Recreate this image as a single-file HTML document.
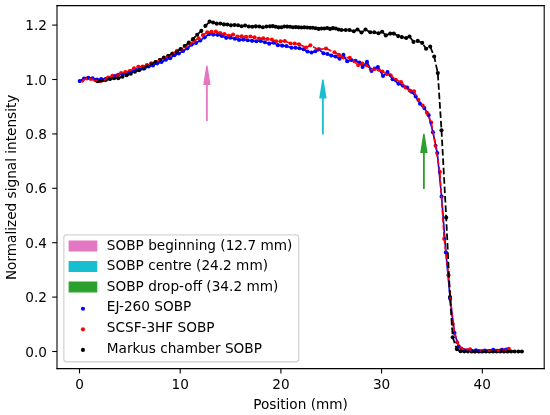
<!DOCTYPE html>
<html lang="en"><head><meta charset="utf-8"><title>SOBP depth-dose curves</title>
<style>html,body{margin:0;padding:0;background:#fff;}svg{display:block;}</style>
</head><body>
<svg width="550" height="415" viewBox="0 0 402.737 303.883">
 <defs>
  <style type="text/css">*{stroke-linejoin: round; stroke-linecap: butt}</style>
 </defs>
 <g id="figure_1">
  <g id="patch_1">
   <path d="M 0 303.883 
L 402.737 303.883 
L 402.737 0 
L 0 0 
z
" style="fill: #ffffff"/>
  </g>
  <g id="axes_1">
   <g id="patch_2">
    <path d="M 41.738 269.907 
L 398.490 269.907 
L 398.490 4.137 
L 41.738 4.137 
z
" style="fill: #ffffff"/>
   </g>
   <g id="PathCollection_1">
    <g>
     <circle cx="58.36" cy="59.39" r="1.5" fill="#0000ff" stroke="none"/>
     <circle cx="61.51" cy="57.51" r="1.5" fill="#0000ff" stroke="none"/>
     <circle cx="64.67" cy="57.02" r="1.5" fill="#0000ff" stroke="none"/>
     <circle cx="67.82" cy="57.34" r="1.5" fill="#0000ff" stroke="none"/>
     <circle cx="70.98" cy="58.29" r="1.5" fill="#0000ff" stroke="none"/>
     <circle cx="74.13" cy="57.86" r="1.5" fill="#0000ff" stroke="none"/>
     <circle cx="77.29" cy="57.80" r="1.5" fill="#0000ff" stroke="none"/>
     <circle cx="80.44" cy="57.55" r="1.5" fill="#0000ff" stroke="none"/>
     <circle cx="83.60" cy="55.72" r="1.5" fill="#0000ff" stroke="none"/>
     <circle cx="86.75" cy="54.70" r="1.5" fill="#0000ff" stroke="none"/>
     <circle cx="89.91" cy="54.21" r="1.5" fill="#0000ff" stroke="none"/>
     <circle cx="93.06" cy="53.27" r="1.5" fill="#0000ff" stroke="none"/>
     <circle cx="96.22" cy="52.30" r="1.5" fill="#0000ff" stroke="none"/>
     <circle cx="99.37" cy="51.10" r="1.5" fill="#0000ff" stroke="none"/>
     <circle cx="102.52" cy="50.68" r="1.5" fill="#0000ff" stroke="none"/>
     <circle cx="105.68" cy="50.21" r="1.5" fill="#0000ff" stroke="none"/>
     <circle cx="108.83" cy="48.64" r="1.5" fill="#0000ff" stroke="none"/>
     <circle cx="111.99" cy="48.00" r="1.5" fill="#0000ff" stroke="none"/>
     <circle cx="115.14" cy="46.38" r="1.5" fill="#0000ff" stroke="none"/>
     <circle cx="118.30" cy="45.40" r="1.5" fill="#0000ff" stroke="none"/>
     <circle cx="121.45" cy="43.77" r="1.5" fill="#0000ff" stroke="none"/>
     <circle cx="124.61" cy="42.61" r="1.5" fill="#0000ff" stroke="none"/>
     <circle cx="127.76" cy="40.43" r="1.5" fill="#0000ff" stroke="none"/>
     <circle cx="130.92" cy="39.22" r="1.5" fill="#0000ff" stroke="none"/>
     <circle cx="134.07" cy="37.37" r="1.5" fill="#0000ff" stroke="none"/>
     <circle cx="137.23" cy="35.40" r="1.5" fill="#0000ff" stroke="none"/>
     <circle cx="140.38" cy="32.66" r="1.5" fill="#0000ff" stroke="none"/>
     <circle cx="143.53" cy="31.45" r="1.5" fill="#0000ff" stroke="none"/>
     <circle cx="146.69" cy="29.61" r="1.5" fill="#0000ff" stroke="none"/>
     <circle cx="149.84" cy="27.34" r="1.5" fill="#0000ff" stroke="none"/>
     <circle cx="153.00" cy="25.08" r="1.5" fill="#0000ff" stroke="none"/>
     <circle cx="156.15" cy="25.33" r="1.5" fill="#0000ff" stroke="none"/>
     <circle cx="159.31" cy="25.51" r="1.5" fill="#0000ff" stroke="none"/>
     <circle cx="162.46" cy="26.29" r="1.5" fill="#0000ff" stroke="none"/>
     <circle cx="165.62" cy="27.71" r="1.5" fill="#0000ff" stroke="none"/>
     <circle cx="168.77" cy="27.57" r="1.5" fill="#0000ff" stroke="none"/>
     <circle cx="171.93" cy="28.40" r="1.5" fill="#0000ff" stroke="none"/>
     <circle cx="175.08" cy="29.21" r="1.5" fill="#0000ff" stroke="none"/>
     <circle cx="178.23" cy="28.98" r="1.5" fill="#0000ff" stroke="none"/>
     <circle cx="181.39" cy="29.48" r="1.5" fill="#0000ff" stroke="none"/>
     <circle cx="184.54" cy="29.90" r="1.5" fill="#0000ff" stroke="none"/>
     <circle cx="187.70" cy="30.20" r="1.5" fill="#0000ff" stroke="none"/>
     <circle cx="190.85" cy="29.99" r="1.5" fill="#0000ff" stroke="none"/>
     <circle cx="194.01" cy="30.91" r="1.5" fill="#0000ff" stroke="none"/>
     <circle cx="197.16" cy="31.96" r="1.5" fill="#0000ff" stroke="none"/>
     <circle cx="200.32" cy="31.33" r="1.5" fill="#0000ff" stroke="none"/>
     <circle cx="203.47" cy="33.05" r="1.5" fill="#0000ff" stroke="none"/>
     <circle cx="206.63" cy="33.44" r="1.5" fill="#0000ff" stroke="none"/>
     <circle cx="209.78" cy="33.76" r="1.5" fill="#0000ff" stroke="none"/>
     <circle cx="213.45" cy="35.00" r="1.5" fill="#0000ff" stroke="none"/>
     <circle cx="216.38" cy="35.00" r="1.5" fill="#0000ff" stroke="none"/>
     <circle cx="219.31" cy="35.37" r="1.5" fill="#0000ff" stroke="none"/>
     <circle cx="222.24" cy="36.10" r="1.5" fill="#0000ff" stroke="none"/>
     <circle cx="225.17" cy="37.71" r="1.5" fill="#0000ff" stroke="none"/>
     <circle cx="228.10" cy="38.44" r="1.5" fill="#0000ff" stroke="none"/>
     <circle cx="230.88" cy="37.49" r="1.5" fill="#0000ff" stroke="none"/>
     <circle cx="233.59" cy="36.10" r="1.5" fill="#0000ff" stroke="none"/>
     <circle cx="236.88" cy="39.03" r="1.5" fill="#0000ff" stroke="none"/>
     <circle cx="239.81" cy="39.54" r="1.5" fill="#0000ff" stroke="none"/>
     <circle cx="242.59" cy="40.64" r="1.5" fill="#0000ff" stroke="none"/>
     <circle cx="245.67" cy="41.37" r="1.5" fill="#0000ff" stroke="none"/>
     <circle cx="248.67" cy="42.98" r="1.5" fill="#0000ff" stroke="none"/>
     <circle cx="251.45" cy="40.20" r="1.5" fill="#0000ff" stroke="none"/>
     <circle cx="254.24" cy="44.89" r="1.5" fill="#0000ff" stroke="none"/>
     <circle cx="257.24" cy="43.94" r="1.5" fill="#0000ff" stroke="none"/>
     <circle cx="260.32" cy="44.45" r="1.5" fill="#0000ff" stroke="none"/>
     <circle cx="263.17" cy="45.84" r="1.5" fill="#0000ff" stroke="none"/>
     <circle cx="265.51" cy="49.06" r="1.5" fill="#0000ff" stroke="none"/>
     <circle cx="268.74" cy="45.33" r="1.5" fill="#0000ff" stroke="none"/>
     <circle cx="272.03" cy="51.92" r="1.5" fill="#0000ff" stroke="none"/>
     <circle cx="274.37" cy="50.16" r="1.5" fill="#0000ff" stroke="none"/>
     <circle cx="276.72" cy="49.06" r="1.5" fill="#0000ff" stroke="none"/>
     <circle cx="280.45" cy="55.65" r="1.5" fill="#0000ff" stroke="none"/>
     <circle cx="283.75" cy="52.80" r="1.5" fill="#0000ff" stroke="none"/>
     <circle cx="287.48" cy="57.99" r="1.5" fill="#0000ff" stroke="none"/>
     <circle cx="291.80" cy="61.24" r="1.5" fill="#0000ff" stroke="none"/>
     <circle cx="294.95" cy="62.68" r="1.5" fill="#0000ff" stroke="none"/>
     <circle cx="298.11" cy="64.15" r="1.5" fill="#0000ff" stroke="none"/>
     <circle cx="301.26" cy="67.12" r="1.5" fill="#0000ff" stroke="none"/>
     <circle cx="304.42" cy="70.65" r="1.5" fill="#0000ff" stroke="none"/>
     <circle cx="307.57" cy="75.96" r="1.5" fill="#0000ff" stroke="none"/>
     <circle cx="310.73" cy="79.14" r="1.5" fill="#0000ff" stroke="none"/>
     <circle cx="313.88" cy="84.31" r="1.5" fill="#0000ff" stroke="none"/>
     <circle cx="317.04" cy="96.80" r="1.5" fill="#0000ff" stroke="none"/>
     <circle cx="320.19" cy="112.04" r="1.5" fill="#0000ff" stroke="none"/>
     <circle cx="323.35" cy="143.86" r="1.5" fill="#0000ff" stroke="none"/>
     <circle cx="326.50" cy="184.86" r="1.5" fill="#0000ff" stroke="none"/>
     <circle cx="329.66" cy="218.79" r="1.5" fill="#0000ff" stroke="none"/>
     <circle cx="332.81" cy="243.93" r="1.5" fill="#0000ff" stroke="none"/>
     <circle cx="335.96" cy="253.80" r="1.5" fill="#0000ff" stroke="none"/>
     <circle cx="339.12" cy="256.10" r="1.5" fill="#0000ff" stroke="none"/>
     <circle cx="342.27" cy="256.59" r="1.5" fill="#0000ff" stroke="none"/>
     <circle cx="345.43" cy="256.95" r="1.5" fill="#0000ff" stroke="none"/>
     <circle cx="348.58" cy="256.55" r="1.5" fill="#0000ff" stroke="none"/>
     <circle cx="351.74" cy="257.19" r="1.5" fill="#0000ff" stroke="none"/>
     <circle cx="354.89" cy="256.75" r="1.5" fill="#0000ff" stroke="none"/>
     <circle cx="358.05" cy="257.03" r="1.5" fill="#0000ff" stroke="none"/>
     <circle cx="361.20" cy="256.22" r="1.5" fill="#0000ff" stroke="none"/>
     <circle cx="364.36" cy="256.95" r="1.5" fill="#0000ff" stroke="none"/>
     <circle cx="367.51" cy="256.06" r="1.5" fill="#0000ff" stroke="none"/>
     <circle cx="370.67" cy="255.91" r="1.5" fill="#0000ff" stroke="none"/>
    </g>
   </g>
   <g id="PathCollection_2">
    <g>
     <circle cx="60.26" cy="59.02" r="1.5" fill="#ff0000" stroke="none"/>
     <circle cx="63.42" cy="57.48" r="1.5" fill="#ff0000" stroke="none"/>
     <circle cx="66.57" cy="57.80" r="1.5" fill="#ff0000" stroke="none"/>
     <circle cx="69.73" cy="58.73" r="1.5" fill="#ff0000" stroke="none"/>
     <circle cx="72.88" cy="59.49" r="1.5" fill="#ff0000" stroke="none"/>
     <circle cx="76.04" cy="58.77" r="1.5" fill="#ff0000" stroke="none"/>
     <circle cx="79.19" cy="56.75" r="1.5" fill="#ff0000" stroke="none"/>
     <circle cx="82.35" cy="55.49" r="1.5" fill="#ff0000" stroke="none"/>
     <circle cx="85.50" cy="55.34" r="1.5" fill="#ff0000" stroke="none"/>
     <circle cx="88.66" cy="53.53" r="1.5" fill="#ff0000" stroke="none"/>
     <circle cx="91.81" cy="52.81" r="1.5" fill="#ff0000" stroke="none"/>
     <circle cx="94.96" cy="52.04" r="1.5" fill="#ff0000" stroke="none"/>
     <circle cx="98.12" cy="50.04" r="1.5" fill="#ff0000" stroke="none"/>
     <circle cx="101.27" cy="48.83" r="1.5" fill="#ff0000" stroke="none"/>
     <circle cx="104.43" cy="48.74" r="1.5" fill="#ff0000" stroke="none"/>
     <circle cx="107.58" cy="47.61" r="1.5" fill="#ff0000" stroke="none"/>
     <circle cx="110.74" cy="46.43" r="1.5" fill="#ff0000" stroke="none"/>
     <circle cx="113.89" cy="45.47" r="1.5" fill="#ff0000" stroke="none"/>
     <circle cx="117.05" cy="43.98" r="1.5" fill="#ff0000" stroke="none"/>
     <circle cx="120.20" cy="42.42" r="1.5" fill="#ff0000" stroke="none"/>
     <circle cx="123.36" cy="41.26" r="1.5" fill="#ff0000" stroke="none"/>
     <circle cx="126.51" cy="39.14" r="1.5" fill="#ff0000" stroke="none"/>
     <circle cx="129.67" cy="37.11" r="1.5" fill="#ff0000" stroke="none"/>
     <circle cx="132.82" cy="36.09" r="1.5" fill="#ff0000" stroke="none"/>
     <circle cx="135.97" cy="34.05" r="1.5" fill="#ff0000" stroke="none"/>
     <circle cx="139.13" cy="32.33" r="1.5" fill="#ff0000" stroke="none"/>
     <circle cx="142.28" cy="29.90" r="1.5" fill="#ff0000" stroke="none"/>
     <circle cx="145.44" cy="28.03" r="1.5" fill="#ff0000" stroke="none"/>
     <circle cx="148.59" cy="25.67" r="1.5" fill="#ff0000" stroke="none"/>
     <circle cx="151.75" cy="23.69" r="1.5" fill="#ff0000" stroke="none"/>
     <circle cx="154.90" cy="23.30" r="1.5" fill="#ff0000" stroke="none"/>
     <circle cx="158.06" cy="23.18" r="1.5" fill="#ff0000" stroke="none"/>
     <circle cx="161.21" cy="24.17" r="1.5" fill="#ff0000" stroke="none"/>
     <circle cx="164.37" cy="24.91" r="1.5" fill="#ff0000" stroke="none"/>
     <circle cx="167.52" cy="26.15" r="1.5" fill="#ff0000" stroke="none"/>
     <circle cx="170.68" cy="25.34" r="1.5" fill="#ff0000" stroke="none"/>
     <circle cx="173.83" cy="26.70" r="1.5" fill="#ff0000" stroke="none"/>
     <circle cx="176.98" cy="26.67" r="1.5" fill="#ff0000" stroke="none"/>
     <circle cx="180.14" cy="27.00" r="1.5" fill="#ff0000" stroke="none"/>
     <circle cx="183.29" cy="26.70" r="1.5" fill="#ff0000" stroke="none"/>
     <circle cx="186.45" cy="27.38" r="1.5" fill="#ff0000" stroke="none"/>
     <circle cx="189.60" cy="28.15" r="1.5" fill="#ff0000" stroke="none"/>
     <circle cx="192.76" cy="28.10" r="1.5" fill="#ff0000" stroke="none"/>
     <circle cx="195.91" cy="28.56" r="1.5" fill="#ff0000" stroke="none"/>
     <circle cx="199.07" cy="28.92" r="1.5" fill="#ff0000" stroke="none"/>
     <circle cx="202.22" cy="30.15" r="1.5" fill="#ff0000" stroke="none"/>
     <circle cx="205.38" cy="30.29" r="1.5" fill="#ff0000" stroke="none"/>
     <circle cx="208.53" cy="29.97" r="1.5" fill="#ff0000" stroke="none"/>
     <circle cx="212.87" cy="31.85" r="1.5" fill="#ff0000" stroke="none"/>
     <circle cx="215.79" cy="31.85" r="1.5" fill="#ff0000" stroke="none"/>
     <circle cx="218.94" cy="32.37" r="1.5" fill="#ff0000" stroke="none"/>
     <circle cx="224.07" cy="34.78" r="1.5" fill="#ff0000" stroke="none"/>
     <circle cx="227.29" cy="33.17" r="1.5" fill="#ff0000" stroke="none"/>
     <circle cx="232.86" cy="36.32" r="1.5" fill="#ff0000" stroke="none"/>
     <circle cx="238.71" cy="35.51" r="1.5" fill="#ff0000" stroke="none"/>
     <circle cx="244.94" cy="38.30" r="1.5" fill="#ff0000" stroke="none"/>
     <circle cx="248.23" cy="40.20" r="1.5" fill="#ff0000" stroke="none"/>
     <circle cx="251.45" cy="42.10" r="1.5" fill="#ff0000" stroke="none"/>
     <circle cx="256.14" cy="42.32" r="1.5" fill="#ff0000" stroke="none"/>
     <circle cx="259.44" cy="44.89" r="1.5" fill="#ff0000" stroke="none"/>
     <circle cx="262.22" cy="47.67" r="1.5" fill="#ff0000" stroke="none"/>
     <circle cx="265.29" cy="46.57" r="1.5" fill="#ff0000" stroke="none"/>
     <circle cx="268.30" cy="47.67" r="1.5" fill="#ff0000" stroke="none"/>
     <circle cx="271.59" cy="50.96" r="1.5" fill="#ff0000" stroke="none"/>
     <circle cx="274.37" cy="50.53" r="1.5" fill="#ff0000" stroke="none"/>
     <circle cx="277.16" cy="50.96" r="1.5" fill="#ff0000" stroke="none"/>
     <circle cx="280.01" cy="52.36" r="1.5" fill="#ff0000" stroke="none"/>
     <circle cx="283.23" cy="54.26" r="1.5" fill="#ff0000" stroke="none"/>
     <circle cx="286.09" cy="55.14" r="1.5" fill="#ff0000" stroke="none"/>
     <circle cx="289.82" cy="58.43" r="1.5" fill="#ff0000" stroke="none"/>
     <circle cx="293.70" cy="60.14" r="1.5" fill="#ff0000" stroke="none"/>
     <circle cx="296.86" cy="63.95" r="1.5" fill="#ff0000" stroke="none"/>
     <circle cx="300.01" cy="66.35" r="1.5" fill="#ff0000" stroke="none"/>
     <circle cx="303.17" cy="66.81" r="1.5" fill="#ff0000" stroke="none"/>
     <circle cx="306.32" cy="73.10" r="1.5" fill="#ff0000" stroke="none"/>
     <circle cx="309.48" cy="77.26" r="1.5" fill="#ff0000" stroke="none"/>
     <circle cx="312.63" cy="82.60" r="1.5" fill="#ff0000" stroke="none"/>
     <circle cx="315.79" cy="89.78" r="1.5" fill="#ff0000" stroke="none"/>
     <circle cx="318.94" cy="106.67" r="1.5" fill="#ff0000" stroke="none"/>
     <circle cx="322.10" cy="125.96" r="1.5" fill="#ff0000" stroke="none"/>
     <circle cx="325.25" cy="174.79" r="1.5" fill="#ff0000" stroke="none"/>
     <circle cx="328.40" cy="201.46" r="1.5" fill="#ff0000" stroke="none"/>
     <circle cx="331.56" cy="237.31" r="1.5" fill="#ff0000" stroke="none"/>
     <circle cx="334.71" cy="250.60" r="1.5" fill="#ff0000" stroke="none"/>
     <circle cx="337.87" cy="255.18" r="1.5" fill="#ff0000" stroke="none"/>
     <circle cx="341.02" cy="256.43" r="1.5" fill="#ff0000" stroke="none"/>
     <circle cx="344.18" cy="255.84" r="1.5" fill="#ff0000" stroke="none"/>
     <circle cx="347.33" cy="257.37" r="1.5" fill="#ff0000" stroke="none"/>
     <circle cx="350.49" cy="257.14" r="1.5" fill="#ff0000" stroke="none"/>
     <circle cx="353.64" cy="257.15" r="1.5" fill="#ff0000" stroke="none"/>
     <circle cx="356.80" cy="257.06" r="1.5" fill="#ff0000" stroke="none"/>
     <circle cx="359.95" cy="256.83" r="1.5" fill="#ff0000" stroke="none"/>
     <circle cx="363.11" cy="256.89" r="1.5" fill="#ff0000" stroke="none"/>
     <circle cx="366.26" cy="256.69" r="1.5" fill="#ff0000" stroke="none"/>
     <circle cx="369.41" cy="256.71" r="1.5" fill="#ff0000" stroke="none"/>
     <circle cx="372.57" cy="255.48" r="1.5" fill="#ff0000" stroke="none"/>
    </g>
   </g>
   <g id="PathCollection_3">
    <g>
     <circle cx="71.39" cy="59.54" r="1.5" fill="#000000" stroke="none"/>
     <circle cx="74.43" cy="59.01" r="1.5" fill="#000000" stroke="none"/>
     <circle cx="77.47" cy="58.49" r="1.5" fill="#000000" stroke="none"/>
     <circle cx="80.52" cy="57.87" r="1.5" fill="#000000" stroke="none"/>
     <circle cx="83.56" cy="57.27" r="1.5" fill="#000000" stroke="none"/>
     <circle cx="86.60" cy="57.25" r="1.5" fill="#000000" stroke="none"/>
     <circle cx="89.64" cy="56.16" r="1.5" fill="#000000" stroke="none"/>
     <circle cx="92.68" cy="55.11" r="1.5" fill="#000000" stroke="none"/>
     <circle cx="95.72" cy="53.93" r="1.5" fill="#000000" stroke="none"/>
     <circle cx="98.76" cy="52.53" r="1.5" fill="#000000" stroke="none"/>
     <circle cx="101.80" cy="51.41" r="1.5" fill="#000000" stroke="none"/>
     <circle cx="104.84" cy="50.12" r="1.5" fill="#000000" stroke="none"/>
     <circle cx="107.88" cy="48.20" r="1.5" fill="#000000" stroke="none"/>
     <circle cx="110.92" cy="46.81" r="1.5" fill="#000000" stroke="none"/>
     <circle cx="113.96" cy="45.38" r="1.5" fill="#000000" stroke="none"/>
     <circle cx="117.00" cy="44.04" r="1.5" fill="#000000" stroke="none"/>
     <circle cx="120.04" cy="42.11" r="1.5" fill="#000000" stroke="none"/>
     <circle cx="123.08" cy="41.08" r="1.5" fill="#000000" stroke="none"/>
     <circle cx="126.12" cy="39.38" r="1.5" fill="#000000" stroke="none"/>
     <circle cx="129.16" cy="38.25" r="1.5" fill="#000000" stroke="none"/>
     <circle cx="132.20" cy="35.89" r="1.5" fill="#000000" stroke="none"/>
     <circle cx="135.24" cy="33.65" r="1.5" fill="#000000" stroke="none"/>
     <circle cx="138.28" cy="31.22" r="1.5" fill="#000000" stroke="none"/>
     <circle cx="141.32" cy="28.53" r="1.5" fill="#000000" stroke="none"/>
     <circle cx="144.36" cy="25.49" r="1.5" fill="#000000" stroke="none"/>
     <circle cx="147.40" cy="22.61" r="1.5" fill="#000000" stroke="none"/>
     <circle cx="150.44" cy="18.94" r="1.5" fill="#000000" stroke="none"/>
     <circle cx="153.48" cy="15.82" r="1.5" fill="#000000" stroke="none"/>
     <circle cx="156.08" cy="16.46" r="1.5" fill="#000000" stroke="none"/>
     <circle cx="158.68" cy="17.31" r="1.5" fill="#000000" stroke="none"/>
     <circle cx="161.28" cy="17.17" r="1.5" fill="#000000" stroke="none"/>
     <circle cx="163.89" cy="17.88" r="1.5" fill="#000000" stroke="none"/>
     <circle cx="166.49" cy="17.95" r="1.5" fill="#000000" stroke="none"/>
     <circle cx="169.09" cy="18.55" r="1.5" fill="#000000" stroke="none"/>
     <circle cx="171.69" cy="18.26" r="1.5" fill="#000000" stroke="none"/>
     <circle cx="174.29" cy="18.44" r="1.5" fill="#000000" stroke="none"/>
     <circle cx="176.89" cy="19.25" r="1.5" fill="#000000" stroke="none"/>
     <circle cx="179.50" cy="18.70" r="1.5" fill="#000000" stroke="none"/>
     <circle cx="182.10" cy="19.37" r="1.5" fill="#000000" stroke="none"/>
     <circle cx="184.70" cy="19.59" r="1.5" fill="#000000" stroke="none"/>
     <circle cx="187.30" cy="19.30" r="1.5" fill="#000000" stroke="none"/>
     <circle cx="189.90" cy="19.46" r="1.5" fill="#000000" stroke="none"/>
     <circle cx="192.50" cy="19.94" r="1.5" fill="#000000" stroke="none"/>
     <circle cx="195.11" cy="19.37" r="1.5" fill="#000000" stroke="none"/>
     <circle cx="197.71" cy="19.30" r="1.5" fill="#000000" stroke="none"/>
     <circle cx="199.80" cy="19.12" r="1.5" fill="#000000" stroke="none"/>
     <circle cx="201.90" cy="19.57" r="1.5" fill="#000000" stroke="none"/>
     <circle cx="203.99" cy="20.04" r="1.5" fill="#000000" stroke="none"/>
     <circle cx="206.08" cy="19.93" r="1.5" fill="#000000" stroke="none"/>
     <circle cx="208.18" cy="19.41" r="1.5" fill="#000000" stroke="none"/>
     <circle cx="210.27" cy="19.48" r="1.5" fill="#000000" stroke="none"/>
     <circle cx="212.37" cy="19.64" r="1.5" fill="#000000" stroke="none"/>
     <circle cx="214.46" cy="19.92" r="1.5" fill="#000000" stroke="none"/>
     <circle cx="216.56" cy="19.83" r="1.5" fill="#000000" stroke="none"/>
     <circle cx="218.65" cy="20.02" r="1.5" fill="#000000" stroke="none"/>
     <circle cx="220.74" cy="20.11" r="1.5" fill="#000000" stroke="none"/>
     <circle cx="222.84" cy="20.02" r="1.5" fill="#000000" stroke="none"/>
     <circle cx="224.93" cy="20.18" r="1.5" fill="#000000" stroke="none"/>
     <circle cx="227.03" cy="20.35" r="1.5" fill="#000000" stroke="none"/>
     <circle cx="229.12" cy="20.36" r="1.5" fill="#000000" stroke="none"/>
     <circle cx="231.22" cy="20.64" r="1.5" fill="#000000" stroke="none"/>
     <circle cx="233.31" cy="21.15" r="1.5" fill="#000000" stroke="none"/>
     <circle cx="235.40" cy="20.89" r="1.5" fill="#000000" stroke="none"/>
     <circle cx="237.50" cy="20.84" r="1.5" fill="#000000" stroke="none"/>
     <circle cx="239.59" cy="20.45" r="1.5" fill="#000000" stroke="none"/>
     <circle cx="241.69" cy="21.17" r="1.5" fill="#000000" stroke="none"/>
     <circle cx="243.78" cy="20.60" r="1.5" fill="#000000" stroke="none"/>
     <circle cx="245.88" cy="20.87" r="1.5" fill="#000000" stroke="none"/>
     <circle cx="247.97" cy="21.65" r="1.5" fill="#000000" stroke="none"/>
     <circle cx="250.06" cy="21.97" r="1.5" fill="#000000" stroke="none"/>
     <circle cx="253.21" cy="21.97" r="1.5" fill="#000000" stroke="none"/>
     <circle cx="255.92" cy="21.97" r="1.5" fill="#000000" stroke="none"/>
     <circle cx="259.07" cy="22.92" r="1.5" fill="#000000" stroke="none"/>
     <circle cx="261.78" cy="21.60" r="1.5" fill="#000000" stroke="none"/>
     <circle cx="264.71" cy="23.80" r="1.5" fill="#000000" stroke="none"/>
     <circle cx="267.64" cy="21.60" r="1.5" fill="#000000" stroke="none"/>
     <circle cx="271.15" cy="23.58" r="1.5" fill="#000000" stroke="none"/>
     <circle cx="274.01" cy="23.58" r="1.5" fill="#000000" stroke="none"/>
     <circle cx="277.16" cy="24.31" r="1.5" fill="#000000" stroke="none"/>
     <circle cx="279.87" cy="23.21" r="1.5" fill="#000000" stroke="none"/>
     <circle cx="282.50" cy="25.92" r="1.5" fill="#000000" stroke="none"/>
     <circle cx="285.72" cy="24.60" r="1.5" fill="#000000" stroke="none"/>
     <circle cx="288.36" cy="24.60" r="1.5" fill="#000000" stroke="none"/>
     <circle cx="291.58" cy="26.43" r="1.5" fill="#000000" stroke="none"/>
     <circle cx="294.22" cy="27.17" r="1.5" fill="#000000" stroke="none"/>
     <circle cx="297.44" cy="27.83" r="1.5" fill="#000000" stroke="none"/>
     <circle cx="299.86" cy="26.73" r="1.5" fill="#000000" stroke="none"/>
     <circle cx="302.79" cy="30.68" r="1.5" fill="#000000" stroke="none"/>
     <circle cx="305.86" cy="29.95" r="1.5" fill="#000000" stroke="none"/>
     <circle cx="309.16" cy="31.41" r="1.5" fill="#000000" stroke="none"/>
     <circle cx="312.01" cy="35.73" r="1.5" fill="#000000" stroke="none"/>
     <circle cx="315.01" cy="34.12" r="1.5" fill="#000000" stroke="none"/>
     <circle cx="317.94" cy="41.37" r="1.5" fill="#000000" stroke="none"/>
     <circle cx="320.58" cy="53.53" r="1.5" fill="#000000" stroke="none"/>
     <circle cx="323.29" cy="95.34" r="1.5" fill="#000000" stroke="none"/>
     <circle cx="326.73" cy="159.26" r="1.5" fill="#000000" stroke="none"/>
     <circle cx="329.51" cy="217.55" r="1.5" fill="#000000" stroke="none"/>
     <circle cx="331.49" cy="246.99" r="1.5" fill="#000000" stroke="none"/>
     <circle cx="334.49" cy="255.63" r="1.5" fill="#000000" stroke="none"/>
     <circle cx="337.27" cy="257.24" r="1.5" fill="#000000" stroke="none"/>
     <circle cx="339.98" cy="257.26" r="1.5" fill="#000000" stroke="none"/>
     <circle cx="342.62" cy="257.28" r="1.5" fill="#000000" stroke="none"/>
     <circle cx="345.26" cy="257.30" r="1.5" fill="#000000" stroke="none"/>
     <circle cx="347.89" cy="257.32" r="1.5" fill="#000000" stroke="none"/>
     <circle cx="350.53" cy="257.33" r="1.5" fill="#000000" stroke="none"/>
     <circle cx="353.16" cy="257.34" r="1.5" fill="#000000" stroke="none"/>
     <circle cx="355.80" cy="257.35" r="1.5" fill="#000000" stroke="none"/>
     <circle cx="358.44" cy="257.36" r="1.5" fill="#000000" stroke="none"/>
     <circle cx="361.07" cy="257.37" r="1.5" fill="#000000" stroke="none"/>
     <circle cx="363.71" cy="257.37" r="1.5" fill="#000000" stroke="none"/>
     <circle cx="366.34" cy="257.38" r="1.5" fill="#000000" stroke="none"/>
     <circle cx="368.98" cy="257.38" r="1.5" fill="#000000" stroke="none"/>
     <circle cx="371.62" cy="257.38" r="1.5" fill="#000000" stroke="none"/>
     <circle cx="374.25" cy="257.38" r="1.5" fill="#000000" stroke="none"/>
     <circle cx="376.89" cy="257.39" r="1.5" fill="#000000" stroke="none"/>
     <circle cx="379.53" cy="257.39" r="1.5" fill="#000000" stroke="none"/>
     <circle cx="382.16" cy="257.39" r="1.5" fill="#000000" stroke="none"/>
    </g>
   </g>
   <g id="patch_3">
    <path d="M 151.492 48.255 
L 153.630 61.699 
L 151.639 61.699 
L 151.639 88.089 
L 151.344 88.089 
L 151.344 61.699 
L 149.353 61.699 
z
" style="fill: #e377c2; stroke: #e377c2; stroke-linejoin: miter"/>
   </g>
   <g id="patch_4">
    <path d="M 236.437 58.213 
L 238.576 71.658 
L 236.585 71.658 
L 236.585 98.048 
L 236.290 98.048 
L 236.290 71.658 
L 234.299 71.658 
z
" style="fill: #17becf; stroke: #17becf; stroke-linejoin: miter"/>
   </g>
   <g id="patch_5">
    <path d="M 310.396 98.048 
L 312.535 111.492 
L 310.544 111.492 
L 310.544 137.882 
L 310.249 137.882 
L 310.249 111.492 
L 308.258 111.492 
z
" style="fill: #2ca02c; stroke: #2ca02c; stroke-linejoin: miter"/>
   </g>
   <g id="matplotlib.axis_1">
    <g id="xtick_1">
     <g id="line2d_1">
      <g>
       <line x1="58.214" y1="269.908" x2="58.214" y2="273.408" style="stroke: #000000; stroke-width: 0.8"/>
      </g>
     </g>
     <g id="text_1">
      <text style="font-size: 10px; font-family: 'DejaVu Sans', 'Liberation Sans', sans-serif; text-anchor: middle" x="58.214" y="284.726">0</text>
     </g>
    </g>
    <g id="xtick_2">
     <g id="line2d_2">
      <g>
       <line x1="131.952" y1="269.908" x2="131.952" y2="273.408" style="stroke: #000000; stroke-width: 0.8"/>
      </g>
     </g>
     <g id="text_2">
      <text style="font-size: 10px; font-family: 'DejaVu Sans', 'Liberation Sans', sans-serif; text-anchor: middle" x="131.952" y="284.726">10</text>
     </g>
    </g>
    <g id="xtick_3">
     <g id="line2d_3">
      <g>
       <line x1="205.689" y1="269.908" x2="205.689" y2="273.408" style="stroke: #000000; stroke-width: 0.8"/>
      </g>
     </g>
     <g id="text_3">
      <text style="font-size: 10px; font-family: 'DejaVu Sans', 'Liberation Sans', sans-serif; text-anchor: middle" x="205.689" y="284.726">20</text>
     </g>
    </g>
    <g id="xtick_4">
     <g id="line2d_4">
      <g>
       <line x1="279.427" y1="269.908" x2="279.427" y2="273.408" style="stroke: #000000; stroke-width: 0.8"/>
      </g>
     </g>
     <g id="text_4">
      <text style="font-size: 10px; font-family: 'DejaVu Sans', 'Liberation Sans', sans-serif; text-anchor: middle" x="279.427" y="284.726">30</text>
     </g>
    </g>
    <g id="xtick_5">
     <g id="line2d_5">
      <g>
       <line x1="353.164" y1="269.908" x2="353.164" y2="273.408" style="stroke: #000000; stroke-width: 0.8"/>
      </g>
     </g>
     <g id="text_5">
      <text style="font-size: 10px; font-family: 'DejaVu Sans', 'Liberation Sans', sans-serif; text-anchor: middle" x="353.164" y="284.726">40</text>
     </g>
    </g>
    <g id="text_6">
     <text style="font-size: 10px; font-family: 'DejaVu Sans', 'Liberation Sans', sans-serif; text-anchor: middle" x="220.115" y="299.429">Position (mm)</text>
    </g>
   </g>
   <g id="matplotlib.axis_2">
    <g id="ytick_1">
     <g id="line2d_6">
      <g>
       <line x1="41.738" y1="257.386" x2="38.238" y2="257.386" style="stroke: #000000; stroke-width: 0.8"/>
      </g>
     </g>
     <g id="text_7">
      <text style="font-size: 10px; font-family: 'DejaVu Sans', 'Liberation Sans', sans-serif; text-anchor: end" x="34.372" y="261.112">0.0</text>
     </g>
    </g>
    <g id="ytick_2">
     <g id="line2d_7">
      <g>
       <line x1="41.738" y1="217.552" x2="38.238" y2="217.552" style="stroke: #000000; stroke-width: 0.8"/>
      </g>
     </g>
     <g id="text_8">
      <text style="font-size: 10px; font-family: 'DejaVu Sans', 'Liberation Sans', sans-serif; text-anchor: end" x="34.372" y="221.278">0.2</text>
     </g>
    </g>
    <g id="ytick_3">
     <g id="line2d_8">
      <g>
       <line x1="41.738" y1="177.717" x2="38.238" y2="177.717" style="stroke: #000000; stroke-width: 0.8"/>
      </g>
     </g>
     <g id="text_9">
      <text style="font-size: 10px; font-family: 'DejaVu Sans', 'Liberation Sans', sans-serif; text-anchor: end" x="34.372" y="181.443">0.4</text>
     </g>
    </g>
    <g id="ytick_4">
     <g id="line2d_9">
      <g>
       <line x1="41.738" y1="137.883" x2="38.238" y2="137.883" style="stroke: #000000; stroke-width: 0.8"/>
      </g>
     </g>
     <g id="text_10">
      <text style="font-size: 10px; font-family: 'DejaVu Sans', 'Liberation Sans', sans-serif; text-anchor: end" x="34.372" y="141.609">0.6</text>
     </g>
    </g>
    <g id="ytick_5">
     <g id="line2d_10">
      <g>
       <line x1="41.738" y1="98.048" x2="38.238" y2="98.048" style="stroke: #000000; stroke-width: 0.8"/>
      </g>
     </g>
     <g id="text_11">
      <text style="font-size: 10px; font-family: 'DejaVu Sans', 'Liberation Sans', sans-serif; text-anchor: end" x="34.372" y="101.774">0.8</text>
     </g>
    </g>
    <g id="ytick_6">
     <g id="line2d_11">
      <g>
       <line x1="41.738" y1="58.214" x2="38.238" y2="58.214" style="stroke: #000000; stroke-width: 0.8"/>
      </g>
     </g>
     <g id="text_12">
      <text style="font-size: 10px; font-family: 'DejaVu Sans', 'Liberation Sans', sans-serif; text-anchor: end" x="34.372" y="61.940">1.0</text>
     </g>
    </g>
    <g id="ytick_7">
     <g id="line2d_12">
      <g>
       <line x1="41.738" y1="18.379" x2="38.238" y2="18.379" style="stroke: #000000; stroke-width: 0.8"/>
      </g>
     </g>
     <g id="text_13">
      <text style="font-size: 10px; font-family: 'DejaVu Sans', 'Liberation Sans', sans-serif; text-anchor: end" x="34.372" y="22.105">1.2</text>
     </g>
    </g>
    <g id="text_14">
     <text style="font-size: 10px; font-family: 'DejaVu Sans', 'Liberation Sans', sans-serif; text-anchor: middle" x="11.950" y="137.169" transform="rotate(-90 11.950 137.169)">Normalized signal intensity</text>
    </g>
   </g>
   <g id="line2d_13">
    <path d="M 58.360 59.385 
L 61.514 57.510 
L 64.669 57.017 
L 67.824 57.337 
L 70.978 58.293 
L 74.133 57.857 
L 77.287 57.798 
L 80.442 57.545 
L 83.597 55.723 
L 86.751 54.695 
L 89.906 54.213 
L 93.060 53.266 
L 96.215 52.299 
L 99.370 51.098 
L 102.524 50.675 
L 105.679 50.213 
L 108.833 48.637 
L 111.988 48.000 
L 115.143 46.384 
L 118.297 45.395 
L 121.452 43.773 
L 124.606 42.609 
L 127.761 40.432 
L 130.916 39.220 
L 134.070 37.372 
L 137.225 35.399 
L 140.379 32.660 
L 143.534 31.450 
L 146.689 29.613 
L 149.843 27.337 
L 152.998 25.078 
L 156.152 25.331 
L 159.307 25.508 
L 162.461 26.285 
L 165.616 27.714 
L 168.771 27.566 
L 171.925 28.400 
L 175.080 29.209 
L 178.234 28.975 
L 181.389 29.480 
L 184.544 29.898 
L 187.698 30.200 
L 190.853 29.988 
L 194.007 30.914 
L 197.162 31.959 
L 200.317 31.330 
L 203.471 33.051 
L 206.626 33.437 
L 209.780 33.757 
L 213.451 35.001 
L 216.380 35.001 
L 219.309 35.367 
L 222.238 36.099 
L 225.167 37.710 
L 228.096 38.443 
L 230.878 37.491 
L 233.587 36.099 
L 236.883 39.028 
L 239.812 39.541 
L 242.594 40.639 
L 245.670 41.372 
L 248.672 42.983 
L 251.454 40.200 
L 254.237 44.886 
L 257.239 43.935 
L 260.315 44.447 
L 263.170 45.838 
L 265.514 49.060 
L 268.735 45.326 
L 272.031 51.916 
L 274.374 50.159 
L 276.717 49.060 
L 280.451 55.651 
L 283.747 52.795 
L 287.481 57.994 
L 291.800 61.241 
L 294.954 62.682 
L 298.109 64.153 
L 301.264 67.123 
L 304.418 70.648 
L 307.573 75.960 
L 310.727 79.139 
L 313.882 84.310 
L 317.037 96.797 
L 320.191 112.042 
L 323.346 143.864 
L 326.500 184.855 
L 329.655 218.790 
L 332.810 243.932 
L 335.964 253.804 
L 339.119 256.101 
L 342.273 256.591 
L 345.428 256.947 
L 348.583 256.547 
L 351.737 257.193 
L 354.892 256.754 
L 358.046 257.031 
L 361.201 256.220 
L 364.356 256.947 
L 367.510 256.057 
L 370.665 255.906 
" style="fill: none; stroke: #0000ff; stroke-width: 1.2; stroke-linecap: square"/>
   </g>
   <g id="line2d_14">
    <path d="M 60.264 59.019 
L 63.418 57.484 
L 66.573 57.795 
L 69.728 58.728 
L 72.882 59.489 
L 76.037 58.773 
L 79.191 56.746 
L 82.346 55.486 
L 85.500 55.343 
L 88.655 53.532 
L 91.810 52.811 
L 94.964 52.041 
L 98.119 50.044 
L 101.273 48.831 
L 104.428 48.738 
L 107.583 47.608 
L 110.737 46.429 
L 113.892 45.474 
L 117.046 43.976 
L 120.201 42.417 
L 123.356 41.257 
L 126.510 39.135 
L 129.665 37.110 
L 132.819 36.093 
L 135.974 34.045 
L 139.129 32.334 
L 142.283 29.901 
L 145.438 28.034 
L 148.592 25.672 
L 151.747 23.687 
L 154.902 23.297 
L 158.056 23.180 
L 161.211 24.170 
L 164.365 24.909 
L 167.520 26.149 
L 170.675 25.338 
L 173.829 26.699 
L 176.984 26.671 
L 180.138 27.002 
L 183.293 26.703 
L 186.448 27.383 
L 189.602 28.146 
L 192.757 28.100 
L 195.911 28.559 
L 199.066 28.919 
L 202.220 30.149 
L 205.375 30.289 
L 208.530 29.974 
L 212.865 31.852 
L 215.794 31.852 
L 218.942 32.365 
L 224.068 34.781 
L 227.290 33.170 
L 232.855 36.319 
L 238.713 35.514 
L 244.937 38.296 
L 248.232 40.200 
L 251.454 42.104 
L 256.141 42.324 
L 259.436 44.886 
L 262.218 47.669 
L 265.294 46.571 
L 268.296 47.669 
L 271.591 50.964 
L 274.374 50.525 
L 277.156 50.964 
L 280.012 52.355 
L 283.234 54.259 
L 286.090 55.138 
L 289.824 58.433 
L 293.704 60.144 
L 296.858 63.950 
L 300.013 66.349 
L 303.168 66.807 
L 306.322 73.102 
L 309.477 77.263 
L 312.631 82.600 
L 315.786 89.775 
L 318.940 106.671 
L 322.095 125.955 
L 325.250 174.790 
L 328.404 201.463 
L 331.559 237.314 
L 334.713 250.601 
L 337.868 255.178 
L 341.023 256.433 
L 344.177 255.836 
L 347.332 257.370 
L 350.486 257.142 
L 353.641 257.150 
L 356.796 257.062 
L 359.950 256.831 
L 363.105 256.887 
L 366.259 256.687 
L 369.414 256.710 
L 372.569 255.482 
" style="fill: none; stroke-dasharray: 3.72,1.62; stroke-dashoffset: 0; stroke: #ff0000; stroke-width: 1.2"/>
   </g>
   <g id="line2d_15">
    <path d="M 71.394 59.535 
L 74.434 59.012 
L 77.474 58.489 
L 80.515 57.871 
L 83.555 57.270 
L 86.595 57.251 
L 89.635 56.161 
L 92.675 55.108 
L 95.715 53.931 
L 98.756 52.532 
L 101.796 51.414 
L 104.836 50.117 
L 107.876 48.203 
L 110.916 46.808 
L 113.957 45.384 
L 116.997 44.044 
L 120.037 42.114 
L 123.077 41.078 
L 126.117 39.382 
L 129.158 38.251 
L 132.198 35.893 
L 135.238 33.645 
L 138.278 31.218 
L 141.318 28.531 
L 144.359 25.494 
L 147.399 22.612 
L 150.439 18.935 
L 153.479 15.818 
L 156.081 16.460 
L 158.683 17.305 
L 161.284 17.173 
L 163.886 17.882 
L 166.487 17.946 
L 169.089 18.553 
L 171.691 18.261 
L 174.292 18.436 
L 176.894 19.245 
L 179.496 18.700 
L 182.097 19.370 
L 184.699 19.589 
L 187.301 19.300 
L 189.902 19.460 
L 192.504 19.935 
L 195.106 19.365 
L 197.707 19.304 
L 199.801 19.124 
L 201.896 19.574 
L 203.990 20.036 
L 206.084 19.926 
L 208.178 19.412 
L 210.273 19.483 
L 212.367 19.635 
L 214.461 19.921 
L 216.555 19.833 
L 218.650 20.019 
L 220.744 20.114 
L 222.838 20.018 
L 224.932 20.180 
L 227.026 20.347 
L 229.121 20.361 
L 231.215 20.638 
L 233.309 21.148 
L 235.403 20.885 
L 237.498 20.843 
L 239.592 20.448 
L 241.686 21.172 
L 243.780 20.603 
L 245.875 20.874 
L 247.969 21.648 
L 250.063 21.967 
L 253.212 21.967 
L 255.921 21.967 
L 259.070 22.919 
L 261.779 21.601 
L 264.708 23.798 
L 267.637 21.601 
L 271.152 23.578 
L 274.008 23.578 
L 277.156 24.310 
L 279.866 23.212 
L 282.502 25.921 
L 285.724 24.603 
L 288.360 24.603 
L 291.582 26.434 
L 294.218 27.166 
L 297.440 27.825 
L 299.856 26.727 
L 302.785 30.681 
L 305.861 29.949 
L 309.156 31.413 
L 312.011 35.733 
L 315.014 34.122 
L 317.943 41.372 
L 320.579 53.527 
L 323.288 95.339 
L 326.730 159.264 
L 329.512 217.551 
L 331.489 246.988 
L 334.492 255.628 
L 337.274 257.239 
L 339.983 257.263 
L 342.620 257.283 
L 345.256 257.301 
L 347.892 257.316 
L 350.528 257.330 
L 353.164 257.342 
L 355.800 257.352 
L 358.436 257.360 
L 361.072 257.367 
L 363.708 257.373 
L 366.344 257.377 
L 368.981 257.380 
L 371.617 257.382 
L 374.253 257.384 
L 376.889 257.385 
L 379.525 257.385 
L 382.161 257.386 
" style="fill: none; stroke-dasharray: 4.81,2.08; stroke-dashoffset: 0; stroke: #000000; stroke-width: 1.3"/>
   </g>
   <g id="patch_6">
    <path d="M 41.738 269.907 
L 41.738 4.137 
" style="fill: none; stroke: #000000; stroke-width: 0.8; stroke-linejoin: miter; stroke-linecap: square"/>
   </g>
   <g id="patch_7">
    <path d="M 398.490 269.907 
L 398.490 4.137 
" style="fill: none; stroke: #000000; stroke-width: 0.8; stroke-linejoin: miter; stroke-linecap: square"/>
   </g>
   <g id="patch_8">
    <path d="M 41.738 269.907 
L 398.490 269.907 
" style="fill: none; stroke: #000000; stroke-width: 0.8; stroke-linejoin: miter; stroke-linecap: square"/>
   </g>
   <g id="patch_9">
    <path d="M 41.738 4.137 
L 398.490 4.137 
" style="fill: none; stroke: #000000; stroke-width: 0.8; stroke-linejoin: miter; stroke-linecap: square"/>
   </g>
   <g id="legend_1">
    <g id="patch_10">
     <path d="M 48.738 264.907 
L 216.700 264.907 
Q 218.700 264.907 218.700 262.907 
L 218.700 173.988 
Q 218.700 171.988 216.700 171.988 
L 48.738 171.988 
Q 46.738 171.988 46.738 173.988 
L 46.738 262.907 
Q 46.738 264.907 48.738 264.907 
z
" style="fill: #ffffff; opacity: 0.8; stroke: #cccccc; stroke-linejoin: miter"/>
    </g>
    <g id="patch_11">
     <path d="M 50.738 183.587 
L 70.738 183.587 
L 70.738 176.587 
L 50.738 176.587 
z
" style="fill: #e377c2; stroke: #e377c2; stroke-linejoin: miter"/>
    </g>
    <g id="text_15">
     <text style="font-size: 10px; font-family: 'DejaVu Sans', 'Liberation Sans', sans-serif; text-anchor: start" x="78.226" y="182.928">SOBP beginning (12.7 mm)</text>
    </g>
    <g id="patch_12">
     <path d="M 50.738 198.635 
L 70.738 198.635 
L 70.738 191.635 
L 50.738 191.635 
z
" style="fill: #17becf; stroke: #17becf; stroke-linejoin: miter"/>
    </g>
    <g id="text_16">
     <text style="font-size: 10px; font-family: 'DejaVu Sans', 'Liberation Sans', sans-serif; text-anchor: start" x="78.226" y="197.976">SOBP centre (24.2 mm)</text>
    </g>
    <g id="patch_13">
     <path d="M 50.738 213.683 
L 70.738 213.683 
L 70.738 206.683 
L 50.738 206.683 
z
" style="fill: #2ca02c; stroke: #2ca02c; stroke-linejoin: miter"/>
    </g>
    <g id="text_17">
     <text style="font-size: 10px; font-family: 'DejaVu Sans', 'Liberation Sans', sans-serif; text-anchor: start" x="78.226" y="213.024">SOBP drop-off (34.2 mm)</text>
    </g>
    <g id="PathCollection_4">
     <g>
      <circle cx="60.74" cy="226.11" r="1.5" fill="#0000ff" stroke="none"/>
     </g>
    </g>
    <g id="text_18">
     <text style="font-size: 10px; font-family: 'DejaVu Sans', 'Liberation Sans', sans-serif; text-anchor: start" x="78.226" y="228.073">EJ-260 SOBP</text>
    </g>
    <g id="PathCollection_5">
     <g>
      <circle cx="60.74" cy="241.15" r="1.5" fill="#ff0000" stroke="none"/>
     </g>
    </g>
    <g id="text_19">
     <text style="font-size: 10px; font-family: 'DejaVu Sans', 'Liberation Sans', sans-serif; text-anchor: start" x="78.226" y="243.121">SCSF-3HF SOBP</text>
    </g>
    <g id="PathCollection_6">
     <g>
      <circle cx="60.74" cy="256.20" r="1.5" fill="#000000" stroke="none"/>
     </g>
    </g>
    <g id="text_20">
     <text style="font-size: 10px; font-family: 'DejaVu Sans', 'Liberation Sans', sans-serif; text-anchor: start" x="78.226" y="258.169">Markus chamber SOBP</text>
    </g>
   </g>
  </g>
 </g>
</svg>

</body></html>
